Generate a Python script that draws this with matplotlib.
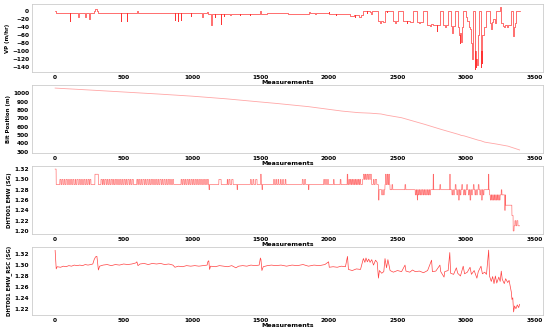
import numpy as np
import matplotlib
matplotlib.use("Agg")
import matplotlib.pyplot as plt
from matplotlib.ticker import FormatStrFormatter

N_SAMPLES = 3393

# VP (m/hr): change points, drawn as steps
VP_IDX = [0, 3, 109, 111, 170, 172, 221, 223, 250, 252, 285, 292, 300, 305, 312,
          480, 482, 522, 524, 597, 603, 876, 878, 897, 899, 917, 919, 990, 992,
          1075, 1077, 1111, 1120, 1140, 1142, 1165, 1167, 1208, 1210, 1230, 1232,
          1280, 1282, 1350, 1352, 1420, 1422, 1499, 1506, 1550, 1700, 1851, 1858,
          1900, 1902, 1997, 2002, 2050, 2052, 2154, 2180, 2190, 2192, 2220, 2230,
          2240, 2251, 2275, 2280, 2300, 2310, 2315, 2349,
          2361, 2375, 2378, 2395, 2409, 2420, 2425, 2470, 2485, 2488,
          2506, 2542, 2570, 2572, 2590, 2615, 2640, 2660, 2662,
          2688, 2712, 2740, 2742, 2760, 2785, 2788, 2809, 2833, 2850, 2853,
          2870, 2894, 2900, 2903, 2918, 2943, 2950, 2955, 2960, 2966, 2970,
          2979, 2999, 3010, 3020, 3030, 3040, 3045, 3052, 3064, 3068, 3072, 3076,
          3083, 3089, 3095, 3108, 3112, 3116, 3120, 3130, 3149, 3173, 3185, 3190,
          3197, 3210, 3222, 3246, 3254, 3258, 3270, 3280, 3285, 3300, 3310,
          3331, 3343, 3348, 3355, 3367, 3392]
VP_VAL = [0, -5, -25, -5, -16, -5, -15, -6, -22, -5, -2, 3, 4, 0, -5,
          -25, -6, -26, -6, 0, -6, -24, -6, -26, -6, -24, -6, -14, -6,
          -17, -7, -3, -8, -37, -8, -16, -8, -33, -8, -14, -9,
          -12, -9, -12, -9, -11, -8, -2, -8, -7, -8, -3, -7,
          -9, -7, -3, -8, -11, -8, -13, -10, -16, -12, -15, -11,
          -12, -1, -6, -1, -3, -8, -1, -2,
          -25, -31, -26, -28, -1, -4, -1, -27, -30, -26,
          -1, -27, -30, -26, -28, -1, -28, -32, -28,
          -1, -35, -38, -34, -36, -52, -36, -1, -36, -40, -36,
          -1, -38, -55, -38, -1, -40, -60, -82, -55, -78, -40,
          -1, -15, -25, -40, -45, -80, -120, -1, -146, -100, -140, -120,
          -135, -60, -1, -142, -100, -130, -60, -40, -1, -30, -45, -28,
          -21, -30, -1, 9, -1, -30, -38, -42, -35, -40, -36,
          -1, -63, -40, -30, -1, -1]

# Bit position (m)
BIT_IDX = [0, 250, 500, 750, 1000, 1250, 1500, 1608, 1851, 2094, 2215, 2300,
           2380, 2420, 2530, 2700, 2821, 2950, 2967, 2985, 3089, 3110, 3137,
           3220, 3307, 3392]
BIT_VAL = [1063, 1040, 1016, 992, 966, 934, 896, 880, 840, 787, 768, 762,
           752, 738, 707, 627, 566, 505, 494, 490, 438, 430, 414, 392, 366, 320]

# DHT001 EMW (SG): baseline levels (start, value)
EMW_LEVELS = [(0, 1.32), (8, 1.29), (2361, 1.28), (3173, 1.27), (3290, 1.25),
              (3336, 1.23), (3345, 1.20), (3352, 1.21)]
# pulses (start, stop, value) laid over the baseline
EMW_PULSES = [
    (35, 43, 1.30), (50, 58, 1.30), (66, 73, 1.30), (81, 90, 1.30), (98, 105, 1.30),
    (113, 121, 1.30), (129, 137, 1.30), (146, 152, 1.30), (160, 169, 1.30),
    (177, 185, 1.30), (193, 200, 1.30), (209, 217, 1.30), (225, 232, 1.30),
    (240, 248, 1.30), (254, 262, 1.30), (291, 316, 1.31),
    (335, 344, 1.30), (350, 357, 1.30), (364, 373, 1.30), (380, 387, 1.30),
    (395, 402, 1.30), (410, 419, 1.30), (426, 432, 1.30), (440, 449, 1.30),
    (456, 463, 1.30), (471, 479, 1.30), (487, 494, 1.30), (502, 510, 1.30),
    (517, 524, 1.30), (532, 541, 1.30), (548, 555, 1.30), (563, 572, 1.30),
    (597, 604, 1.30),
    (610, 618, 1.30), (626, 633, 1.30), (641, 650, 1.30), (657, 664, 1.30),
    (672, 680, 1.30), (688, 695, 1.30), (703, 712, 1.30), (719, 726, 1.30),
    (734, 742, 1.30), (750, 757, 1.30), (765, 774, 1.30), (781, 788, 1.30),
    (796, 804, 1.30), (812, 819, 1.30), (827, 836, 1.30), (843, 850, 1.30),
    (858, 866, 1.30),
    (920, 927, 1.30), (934, 942, 1.30), (949, 956, 1.30), (964, 972, 1.30),
    (979, 986, 1.30), (994, 1002, 1.30), (1009, 1016, 1.30), (1024, 1032, 1.30),
    (1039, 1046, 1.30), (1054, 1062, 1.30), (1069, 1076, 1.30), (1084, 1092, 1.30),
    (1099, 1106, 1.30), (1112, 1120, 1.30), (1124, 1128, 1.28),
    (1196, 1213, 1.30), (1257, 1262, 1.30), (1270, 1278, 1.30), (1290, 1300, 1.30),
    (1329, 1332, 1.28), (1426, 1433, 1.30), (1445, 1452, 1.30), (1465, 1475, 1.30),
    (1500, 1506, 1.31), (1511, 1514, 1.28), (1596, 1602, 1.30),
    (1612, 1618, 1.30), (1628, 1634, 1.30), (1645, 1651, 1.30), (1662, 1668, 1.30),
    (1680, 1686, 1.30), (1805, 1812, 1.30), (1822, 1830, 1.30), (1851, 1854, 1.28),
    (1962, 1968, 1.30), (1975, 1982, 1.30), (1990, 1996, 1.30), (2033, 2038, 1.30),
    (2082, 2088, 1.30), (2133, 2138, 1.31),
    (2145, 2151, 1.30), (2156, 2162, 1.30), (2168, 2174, 1.30), (2180, 2185, 1.30),
    (2191, 2197, 1.30), (2203, 2208, 1.30), (2214, 2220, 1.30), (2226, 2232, 1.30),
    (2245, 2312, 1.30), (2251, 2258, 1.31), (2264, 2270, 1.31), (2277, 2284, 1.31),
    (2290, 2297, 1.31), (2303, 2310, 1.31), (2324, 2330, 1.30), (2338, 2349, 1.30),
    (2361, 2366, 1.26), (2385, 2392, 1.27), (2398, 2404, 1.27),
    (2409, 2446, 1.29), (2412, 2418, 1.31), (2425, 2431, 1.31), (2437, 2443, 1.31),
    (2460, 2466, 1.29), (2555, 2561, 1.29),
    (2630, 2636, 1.27), (2641, 2647, 1.27), (2652, 2658, 1.27), (2664, 2670, 1.27),
    (2676, 2681, 1.27), (2688, 2694, 1.27), (2700, 2706, 1.27), (2712, 2718, 1.27),
    (2724, 2730, 1.27), (2736, 2742, 1.27), (2645, 2648, 1.26),
    (2761, 2765, 1.31), (2810, 2816, 1.29), (2882, 2886, 1.31),
    (2898, 2904, 1.27), (2910, 2916, 1.27), (2922, 2928, 1.29), (2934, 2940, 1.27),
    (2946, 2952, 1.26), (2958, 2964, 1.27), (2970, 2976, 1.29), (2982, 2988, 1.27),
    (2994, 3000, 1.27), (3006, 3012, 1.29), (3018, 3024, 1.27), (3030, 3036, 1.26),
    (3042, 3048, 1.27), (3054, 3060, 1.29), (3066, 3072, 1.27), (3078, 3084, 1.27),
    (3090, 3096, 1.29), (3102, 3108, 1.27), (3114, 3120, 1.26), (3126, 3132, 1.27),
    (3164, 3168, 1.31),
    (3178, 3184, 1.26), (3189, 3195, 1.26), (3200, 3206, 1.26), (3211, 3217, 1.26),
    (3222, 3228, 1.26), (3233, 3239, 1.26), (3244, 3250, 1.26),
    (3258, 3263, 1.28), (3283, 3288, 1.24), (3358, 3365, 1.22), (3372, 3380, 1.22),
]

# DHT001 EMW_RSC (SG)
RSC_IDX = [0, 8, 15, 40, 60, 80, 100, 120, 140, 160, 180, 200, 220, 240, 260, 275,
           285, 295, 305, 312, 316, 325, 350, 380, 410, 440, 470, 500, 530, 560,
           590, 597, 605, 620, 650, 680, 710, 740, 770, 800, 830, 860, 875, 900,
           930, 960, 990, 1020, 1050, 1080, 1110, 1115, 1122, 1128, 1135, 1170,
           1200, 1230, 1260, 1290, 1320, 1340, 1370, 1400, 1430, 1460, 1490, 1499,
           1503, 1510, 1520, 1550, 1580, 1610, 1650, 1690, 1730, 1770, 1810, 1850,
           1890, 1930, 1970, 1997, 2002, 2030, 2060, 2090, 2120, 2135, 2142, 2170,
           2200, 2230, 2251, 2262, 2270, 2280, 2290, 2300, 2312, 2325, 2340, 2352,
           2361, 2368, 2385, 2400, 2409, 2420, 2430, 2446, 2470, 2500, 2530, 2555,
           2562, 2590, 2610, 2630, 2660, 2690, 2720, 2749, 2755, 2780, 2810, 2816,
           2840, 2845, 2870, 2882, 2888, 2910, 2930, 2940, 2960, 2980, 2990, 3010,
           3030, 3040, 3060, 3080, 3090, 3110, 3120, 3137, 3150, 3166, 3172, 3185,
           3195, 3205, 3215, 3225, 3240, 3250, 3258, 3265, 3280, 3290, 3305, 3315,
           3331, 3336, 3342, 3348, 3355, 3365, 3375, 3385, 3392]
RSC_VAL = [1.327, 1.293, 1.297, 1.296, 1.298, 1.297, 1.299, 1.298, 1.300, 1.299,
           1.300, 1.299, 1.301, 1.300, 1.301, 1.302, 1.310, 1.315, 1.316, 1.300,
           1.291, 1.298, 1.300, 1.301, 1.299, 1.301, 1.300, 1.302, 1.301, 1.302,
           1.304, 1.306, 1.299, 1.302, 1.303, 1.301, 1.303, 1.302, 1.303, 1.301,
           1.302, 1.300, 1.296, 1.298, 1.297, 1.299, 1.298, 1.299, 1.298, 1.299,
           1.300, 1.306, 1.308, 1.292, 1.298, 1.297, 1.299, 1.298, 1.297, 1.299,
           1.295, 1.298, 1.299, 1.298, 1.300, 1.299, 1.300, 1.313, 1.310, 1.290,
           1.297, 1.299, 1.300, 1.299, 1.300, 1.298, 1.300, 1.299, 1.301, 1.298,
           1.300, 1.299, 1.301, 1.306, 1.296, 1.297, 1.296, 1.298, 1.297, 1.316,
           1.292, 1.290, 1.293, 1.292, 1.312, 1.305, 1.313, 1.306, 1.311, 1.305,
           1.310, 1.300, 1.309, 1.305, 1.276, 1.290, 1.285, 1.288, 1.312, 1.295,
           1.310, 1.290, 1.287, 1.290, 1.288, 1.300, 1.289, 1.287, 1.291, 1.288,
           1.289, 1.286, 1.290, 1.309, 1.288, 1.289, 1.300, 1.288, 1.278, 1.288,
           1.290, 1.323, 1.285, 1.283, 1.295, 1.285, 1.280, 1.298, 1.284, 1.287,
           1.296, 1.283, 1.290, 1.276, 1.288, 1.298, 1.284, 1.287, 1.283, 1.3275,
           1.280, 1.270, 1.279, 1.266, 1.280, 1.267, 1.278, 1.270, 1.289, 1.274,
           1.266, 1.275, 1.268, 1.272, 1.251, 1.237, 1.240, 1.214, 1.225, 1.220,
           1.227, 1.222, 1.228]

LINE_COLOR = "red"


def emw_series():
    values = np.empty(N_SAMPLES)
    for start, level in EMW_LEVELS:
        values[start:] = level
    for start, stop, level in EMW_PULSES:
        values[start:stop] = level
    return values


def style(ax, ylabel):
    ax.set_ylabel(ylabel, fontsize=3.9, fontweight="bold", labelpad=1.5)
    ax.set_xlabel("Measurements", fontsize=4.5, fontweight="bold", labelpad=0)
    ax.set_xticks([0, 500, 1000, 1500, 2000, 2500, 3000, 3500])
    ax.tick_params(length=0, pad=2, labelsize=4.2)
    for lab in ax.get_xticklabels() + ax.get_yticklabels():
        lab.set_fontweight("bold")
    for sp in ax.spines.values():
        sp.set_color("#cccccc")
        sp.set_linewidth(0.6)


fig, axes = plt.subplots(4, 1, figsize=(5.5, 3.32), dpi=100)
fig.subplots_adjust(left=0.058, right=0.987, top=0.988, bottom=0.051, hspace=0.19)

ax = axes[0]
ax.plot(VP_IDX, VP_VAL, drawstyle="steps-post", color=LINE_COLOR, lw=0.5, alpha=0.8)
ax.set_yticks(np.arange(-140, 1, 20))
style(ax, "VP (m/hr)")

ax = axes[1]
ax.plot(BIT_IDX, BIT_VAL, color=LINE_COLOR, lw=0.6, alpha=0.35)
ax.set_yticks(np.arange(300, 1001, 100))
style(ax, "Bit Position (m)")

ax = axes[2]
ax.plot(np.arange(N_SAMPLES), emw_series(), color=LINE_COLOR, lw=0.45, alpha=0.6)
ax.set_yticks([1.20, 1.22, 1.24, 1.26, 1.28, 1.30, 1.32])
ax.yaxis.set_major_formatter(FormatStrFormatter("%.2f"))
style(ax, "DHT001 EMW (SG)")

ax = axes[3]
ax.plot(RSC_IDX, RSC_VAL, color=LINE_COLOR, lw=0.5, alpha=0.75)
ax.set_yticks([1.22, 1.24, 1.26, 1.28, 1.30, 1.32])
ax.yaxis.set_major_formatter(FormatStrFormatter("%.2f"))
style(ax, "DHT001 EMW_RSC (SG)")

fig.savefig("out.png", dpi=100)
